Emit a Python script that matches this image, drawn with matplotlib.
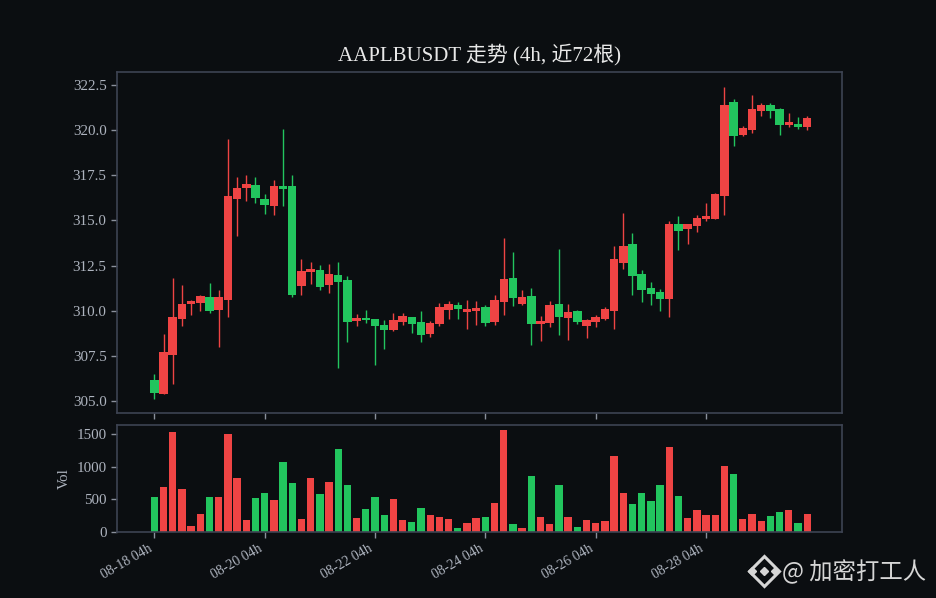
import matplotlib
matplotlib.use("Agg")
import matplotlib.pyplot as plt
import numpy as np

# 4h candles, 72 bars starting 08-18 04h
opens = [306.16, 305.41, 307.57, 309.56, 310.39, 310.45, 310.76, 310.06, 310.61, 316.21,
         316.82, 316.96, 316.19, 315.82, 316.91, 316.91, 311.39, 312.14, 312.26, 311.44,
         311.98, 311.70, 309.45, 309.62, 309.52, 309.19, 308.95, 309.38, 309.65, 309.38,
         308.73, 309.28, 310.06, 310.32, 309.95, 310.00, 310.21, 309.40, 310.50, 311.81,
         310.39, 310.82, 309.28, 309.34, 310.37, 309.62, 309.99, 309.17, 309.40, 309.56,
         310.00, 312.66, 313.70, 312.03, 311.26, 311.04, 310.67, 314.80, 314.54, 314.71,
         315.10, 315.10, 316.37, 321.56, 319.75, 320.03, 321.08, 321.39, 321.17, 320.30,
         320.34, 320.19]
highs = [306.50, 308.71, 311.81, 311.43, 310.60, 310.89, 311.55, 311.15, 319.51, 317.41,
         317.52, 317.41, 316.46, 317.24, 320.06, 317.52, 312.87, 312.70, 312.53, 312.59,
         312.70, 311.92, 309.82, 310.04, 309.55, 309.49, 309.87, 309.87, 309.68, 309.99,
         309.41, 310.43, 310.56, 310.48, 310.61, 310.56, 310.32, 310.87, 314.03, 313.25,
         311.17, 311.26, 309.73, 310.56, 313.42, 310.37, 310.02, 309.52, 309.78, 310.23,
         313.59, 315.41, 314.30, 312.26, 311.59, 311.20, 314.97, 315.25, 314.83, 315.30,
         315.96, 316.52, 322.39, 321.72, 320.23, 321.96, 321.50, 321.50, 321.20, 320.95,
         320.73, 320.78]
lows = [305.11, 305.38, 305.96, 309.17, 309.76, 310.00, 309.89, 308.01, 309.65, 314.16,
        316.10, 315.98, 315.36, 315.32, 315.82, 310.76, 310.87, 311.48, 311.15, 311.00,
        306.85, 308.29, 309.17, 309.34, 307.01, 307.90, 308.90, 309.21, 308.79, 308.29,
        308.56, 309.17, 309.56, 309.56, 309.01, 309.23, 309.17, 309.23, 309.78, 310.28,
        310.34, 308.12, 308.34, 309.12, 308.67, 308.40, 309.28, 308.51, 309.12, 309.51,
        309.01, 312.33, 310.89, 310.50, 310.34, 310.00, 309.67, 313.38, 313.71, 314.38,
        314.99, 315.08, 315.32, 319.14, 319.70, 319.86, 320.80, 320.67, 319.73, 320.19,
        320.06, 320.01]
closes = [305.46, 307.70, 309.65, 310.35, 310.52, 310.82, 310.00, 310.76, 316.35, 316.80,
          317.02, 316.26, 315.87, 316.91, 316.76, 310.87, 312.20, 312.31, 311.33, 312.03,
          311.61, 309.40, 309.58, 309.47, 309.17, 308.95, 309.47, 309.71, 309.28, 308.67,
          309.30, 310.21, 310.37, 310.11, 310.10, 310.15, 309.34, 310.59, 311.76, 310.72,
          310.76, 309.28, 309.41, 310.32, 309.67, 309.93, 309.40, 309.49, 309.65, 310.10,
          312.87, 313.59, 311.94, 311.17, 310.95, 310.67, 314.80, 314.43, 314.80, 315.14,
          315.25, 316.46, 321.39, 319.69, 320.12, 321.17, 321.39, 321.08, 320.30, 320.47,
          320.17, 320.67]
volumes = [541, 694, 1536, 663, 97, 281, 541, 541, 1505, 832,
           189, 526, 602, 495, 1077, 755, 204, 832, 587, 770,
           1276, 724, 219, 357, 541, 265, 510, 189, 158, 372,
           265, 235, 204, 66, 143, 219, 235, 449, 1566, 128,
           66, 862, 235, 128, 724, 235, 82, 189, 143, 173,
           1168, 602, 434, 602, 480, 724, 1306, 556, 219, 342,
           265, 265, 1015, 893, 204, 281, 173, 250, 311, 342,
           143, 281]
tick_pos = [0, 12, 24, 36, 48, 60]
tick_labels = ['08-18 04h', '08-20 04h', '08-22 04h', '08-24 04h', '08-26 04h', '08-28 04h']

BG = '#0b0e11'
UP = '#ef4444'
DOWN = '#22c55e'
EDGE = '#3d4352'
TXT = '#aeb4bf'

plt.rcParams['font.family'] = ['Liberation Serif', 'Noto Sans CJK SC', 'DejaVu Sans']

o = np.array(opens)
h = np.array(highs)
l = np.array(lows)
c = np.array(closes)
v = np.array(volumes)
x = np.arange(len(o))
cols = [UP if cc >= oo else DOWN for oo, cc in zip(o, c)]

fig = plt.figure(figsize=(9.36, 5.98), dpi=100, facecolor=BG)
ax = fig.add_axes([0.125, 0.3094, 0.775, 0.5702], facecolor=BG)
axv = fig.add_axes([0.125, 0.1104, 0.775, 0.1789], facecolor=BG, sharex=ax)

ax.vlines(x, l, h, colors=cols, linewidth=1.0, zorder=2)
body = np.maximum(np.abs(c - o), 0.08)
ax.bar(x, body, bottom=np.minimum(o, c), width=0.92, color=cols, zorder=3)

axv.bar(x, v, width=0.8, color=cols)

ax.set_xlim(-4.06, 74.83)
ax.set_ylim(304.34, 323.22)
axv.set_ylim(0, 1640)

ax.set_yticks([305, 307.5, 310, 312.5, 315, 317.5, 320, 322.5])
ax.yaxis.set_major_formatter(matplotlib.ticker.FormatStrFormatter('%.1f'))
axv.set_yticks([0, 500, 1000, 1500])
axv.set_xticks(tick_pos)
axv.set_xticklabels(tick_labels, rotation=30, ha='right')
plt.setp(ax.get_xticklabels(), visible=False)

for a in (ax, axv):
    for s in a.spines.values():
        s.set_color(EDGE)
        s.set_linewidth(1.2)
    a.tick_params(colors=TXT, labelsize=10.8, length=4, width=1.0)
    a.tick_params(axis='both', color='#8a909b')
axv.tick_params(axis='x', labelsize=10)

axv.set_ylabel('Vol', color=TXT, fontsize=10.8)
ax.set_title('AAPLBUSDT 走势 (4h, 近72根)', color='#e8e8e8', fontsize=15, pad=8)

# watermark: small diamond logo + handle
logo = '#d6d6d6'
fig.lines.append(plt.Line2D([0.816], [0.045], marker='D', markersize=15, markerfacecolor='none',
                            markeredgecolor=logo, markeredgewidth=2.2, transform=fig.transFigure))
for dx, dy in [(0, 0), (-0.0125, 0), (0.0125, 0)]:
    fig.lines.append(plt.Line2D([0.816 + dx], [0.045 + dy], marker='D', markersize=4.5,
                                color=logo, linestyle='none', transform=fig.transFigure))
fig.text(0.836, 0.044, '@ 加密打工人', color=logo, fontsize=16.8,
         family=['Noto Sans CJK SC', 'DejaVu Sans'], va='center', ha='left')

fig.savefig('out.png', dpi=100, facecolor=BG)
